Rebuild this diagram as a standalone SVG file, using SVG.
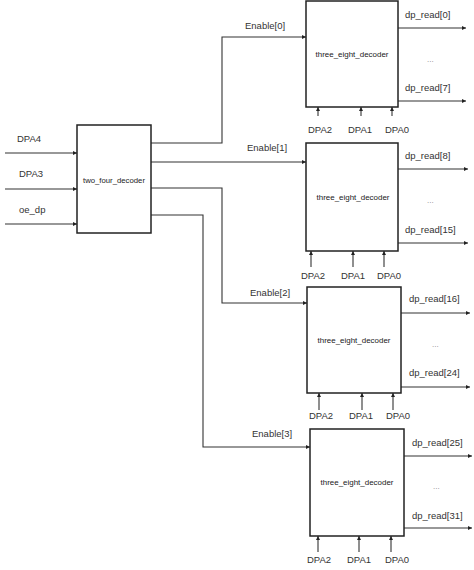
<svg xmlns="http://www.w3.org/2000/svg" width="474" height="570" viewBox="0 0 474 570">
<defs>
<marker id="ah" viewBox="0 0 6 6" refX="6" refY="3" markerWidth="4" markerHeight="4" orient="auto" markerUnits="userSpaceOnUse">
<path d="M0,0 L6,3 L0,6 z" fill="#222"/>
</marker>
<style>
.box{fill:#fff;stroke:#222;stroke-width:1.5}
.w{fill:none;stroke:#333;stroke-width:1.1}
.a{fill:none;stroke:#333;stroke-width:1.1;marker-end:url(#ah)}
.t{font-family:"Liberation Sans",Arial,sans-serif;font-size:9.5px;fill:#333}
.s{font-family:"Liberation Sans",Arial,sans-serif;font-size:7px;fill:#222}
.d{font-family:"Liberation Sans",Arial,sans-serif;font-size:8px;fill:#888}
</style>
</defs>
<rect width="474" height="570" fill="#fff"/>
<g id="connectors">
<path class="a" d="M5,153 H77"/>
<path class="a" d="M5,189 H77"/>
<path class="a" d="M5,224 H77"/>
<path class="a" d="M151,143 H222 V37 H306"/>
<path class="a" d="M151,162 H306"/>
<path class="a" d="M151,188 H222 V303 H307"/>
<path class="a" d="M151,215 H203 V447 H310"/>
<path class="a" d="M398,28 H466"/>
<path class="a" d="M398,101 H466"/>
<path class="a" d="M318,116 V107"/>
<path class="a" d="M361,116 V107"/>
<path class="a" d="M392,116 V107"/>
<path class="a" d="M398,169 H468"/>
<path class="a" d="M398,243 H468"/>
<path class="a" d="M311,267 V251"/>
<path class="a" d="M353,267 V251"/>
<path class="a" d="M384,267 V251"/>
<path class="a" d="M401,313 H470"/>
<path class="a" d="M401,387 H470"/>
<path class="a" d="M319,410 V393"/>
<path class="a" d="M362,410 V393"/>
<path class="a" d="M393,410 V393"/>
<path class="a" d="M404,456 H472"/>
<path class="a" d="M404,528 H472"/>
<path class="a" d="M318,552 V536"/>
<path class="a" d="M359,552 V536"/>
<path class="a" d="M391,552 V536"/>
</g>
<g id="inputs">
<text class="t" x="17" y="142">DPA4</text>
<text class="t" x="19" y="177">DPA3</text>
<text class="t" x="19" y="213">oe_dp</text>
</g>
<g id="two_four_decoder">
<rect class="box" x="77" y="125" width="74" height="108"/>
<text class="s" x="114" y="183" text-anchor="middle" textLength="62" lengthAdjust="spacingAndGlyphs">two_four_decoder</text>
</g>
<g id="enable_labels">
<text class="t" x="245" y="29">Enable[0]</text>
<text class="t" x="247" y="151">Enable[1]</text>
<text class="t" x="250" y="296">Enable[2]</text>
<text class="t" x="252" y="437">Enable[3]</text>
</g>
<g id="decoder0">
<rect class="box" x="306" y="1" width="92" height="106"/>
<text class="s" x="352" y="57" text-anchor="middle" textLength="73" lengthAdjust="spacingAndGlyphs">three_eight_decoder</text>
<text class="t" x="405" y="18">dp_read[0]</text>
<text class="d" x="427" y="62">...</text>
<text class="t" x="405" y="91">dp_read[7]</text>
<text class="t" x="308" y="133">DPA2</text>
<text class="t" x="348" y="133">DPA1</text>
<text class="t" x="385" y="133">DPA0</text>
</g>
<g id="decoder1">
<rect class="box" x="306" y="143" width="92" height="108"/>
<text class="s" x="353" y="200" text-anchor="middle" textLength="73" lengthAdjust="spacingAndGlyphs">three_eight_decoder</text>
<text class="t" x="405" y="159">dp_read[8]</text>
<text class="d" x="427" y="203">...</text>
<text class="t" x="405" y="233">dp_read[15]</text>
<text class="t" x="301" y="279">DPA2</text>
<text class="t" x="341" y="279">DPA1</text>
<text class="t" x="377" y="279">DPA0</text>
</g>
<g id="decoder2">
<rect class="box" x="307" y="287" width="94" height="106"/>
<text class="s" x="354" y="343" text-anchor="middle" textLength="73" lengthAdjust="spacingAndGlyphs">three_eight_decoder</text>
<text class="t" x="409" y="302">dp_read[16]</text>
<text class="d" x="432" y="347">...</text>
<text class="t" x="409" y="376">dp_read[24]</text>
<text class="t" x="309" y="419">DPA2</text>
<text class="t" x="349" y="419">DPA1</text>
<text class="t" x="386" y="419">DPA0</text>
</g>
<g id="decoder3">
<rect class="box" x="310" y="429" width="94" height="107"/>
<text class="s" x="357" y="485" text-anchor="middle" textLength="73" lengthAdjust="spacingAndGlyphs">three_eight_decoder</text>
<text class="t" x="412" y="446">dp_read[25]</text>
<text class="d" x="433" y="489">...</text>
<text class="t" x="412" y="519">dp_read[31]</text>
<text class="t" x="307" y="563">DPA2</text>
<text class="t" x="347" y="563">DPA1</text>
<text class="t" x="385" y="563">DPA0</text>
</g>
</svg>
